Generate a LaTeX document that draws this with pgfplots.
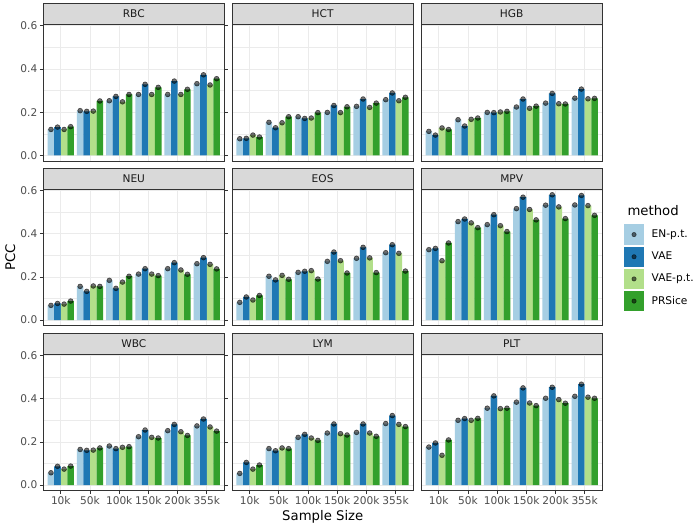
\documentclass[border=0pt]{standalone}
\usepackage{pgfplots}
\pgfplotsset{compat=1.18}
\usepackage{pgfplotstable}
\usepackage{fontspec}
\setmainfont{DejaVu Sans}
\definecolor{grey10}{HTML}{1A1A1A}
\definecolor{grey20}{HTML}{333333}
\definecolor{grey30}{HTML}{4D4D4D}
\definecolor{grey85}{HTML}{D9D9D9}
\definecolor{grey92}{HTML}{EBEBEB}
\definecolor{cEN}{HTML}{A6CEE3}
\definecolor{cVAE}{HTML}{1F78B4}
\definecolor{cVAEpt}{HTML}{B2DF8A}
\definecolor{cPRS}{HTML}{33A02C}

\pgfplotstableread{
x en vae vaept prs
1 0.120 0.131 0.120 0.133
2 0.207 0.204 0.205 0.252
3 0.253 0.273 0.248 0.282
4 0.282 0.329 0.282 0.315
5 0.282 0.344 0.282 0.306
6 0.332 0.373 0.326 0.355
}\tRBC
\pgfplotstableread{
x en vae vaept prs
1 0.077 0.079 0.094 0.085
2 0.153 0.128 0.151 0.179
3 0.179 0.171 0.173 0.198
4 0.199 0.231 0.198 0.225
5 0.227 0.261 0.222 0.242
6 0.258 0.289 0.253 0.269
}\tHCT
\pgfplotstableread{
x en vae vaept prs
1 0.111 0.094 0.127 0.120
2 0.165 0.136 0.167 0.173
3 0.199 0.198 0.201 0.204
4 0.224 0.261 0.218 0.228
5 0.242 0.287 0.239 0.238
6 0.265 0.307 0.262 0.264
}\tHGB
\pgfplotstableread{
x en vae vaept prs
1 0.068 0.077 0.074 0.088
2 0.156 0.133 0.158 0.156
3 0.184 0.147 0.176 0.203
4 0.213 0.238 0.213 0.206
5 0.238 0.266 0.232 0.212
6 0.261 0.289 0.258 0.237
}\tNEU
\pgfplotstableread{
x en vae vaept prs
1 0.082 0.107 0.093 0.114
2 0.203 0.186 0.207 0.189
3 0.221 0.226 0.229 0.190
4 0.272 0.315 0.275 0.218
5 0.286 0.337 0.288 0.220
6 0.312 0.349 0.309 0.227
}\tEOS
\pgfplotstableread{
x en vae vaept prs
1 0.326 0.332 0.275 0.357
2 0.456 0.468 0.450 0.428
3 0.442 0.488 0.437 0.410
4 0.516 0.569 0.512 0.464
5 0.532 0.580 0.524 0.470
6 0.533 0.577 0.530 0.485
}\tMPV
\pgfplotstableread{
x en vae vaept prs
1 0.057 0.087 0.074 0.088
2 0.165 0.161 0.162 0.172
3 0.181 0.169 0.175 0.178
4 0.224 0.255 0.221 0.218
5 0.252 0.281 0.247 0.230
6 0.274 0.306 0.269 0.250
}\tWBC
\pgfplotstableread{
x en vae vaept prs
1 0.054 0.105 0.074 0.093
2 0.169 0.159 0.172 0.169
3 0.221 0.235 0.218 0.207
4 0.241 0.283 0.238 0.232
5 0.244 0.283 0.241 0.226
6 0.285 0.322 0.281 0.271
}\tLYM
\pgfplotstableread{
x en vae vaept prs
1 0.176 0.195 0.138 0.209
2 0.300 0.308 0.300 0.309
3 0.356 0.413 0.354 0.356
4 0.384 0.450 0.380 0.368
5 0.402 0.453 0.396 0.379
6 0.411 0.467 0.407 0.402
}\tPLT

\newcommand\ticksz{\fontsize{8.8}{10}\selectfont}
\pgfplotsset{
  every axis title shift=0pt,
  every axis title/.style={at={(0.5,1)}, anchor=south, fill=grey85, draw=grey20,
      line width=0.6pt, minimum width=150.23pt, minimum height=17.18pt,
      inner sep=0pt, font=\ticksz, text=grey10},
  facet/.style={
    scale only axis, width=150.23pt, height=113.13pt, anchor=south west,
    xmin=0.4, xmax=6.6, ymin=-0.026, ymax=0.605,
    xtick={1,2,3,4,5,6}, ytick={0,0.2,0.4,0.6}, minor ytick={0.1,0.3,0.5},
    xmajorgrids=true, ymajorgrids=true, yminorgrids=true,
    major grid style={grey92, line width=0.6pt},
    minor grid style={grey92, line width=0.3pt},
    axis line style={grey20, line width=0.6pt},
    tick align=outside, major tick length=2.75pt, minor tick length=0pt,
    tick style={grey20, line width=0.6pt},
    xticklabel={}, yticklabel={},
    xmajorticks=false, ymajorticks=false,
    /pgf/number format/assume math mode=true,
    /pgf/number format/fixed, /pgf/number format/fixed zerofill,
    /pgf/number format/precision=1,
    tick label style={font=\ticksz, text=grey30},
    xticklabel style={inner sep=2pt},
    yticklabel style={inner sep=2pt},
    legend image code/.code={%
      \fill[#1] (0pt,-8.5pt) rectangle (16.1pt,8.5pt);
      \filldraw[black, fill opacity=0.55, draw opacity=0.55, line width=0.5pt]
        (8.05pt,0pt) circle (1.8pt);},
  },
  leftcol/.style={ymajorticks=true, yticklabel={\pgfmathprintnumber{\tick}}},
  bottomrow/.style={xmajorticks=true, xticklabels={10k,50k,100k,150k,200k,355k}},
  bar/.style={ybar, bar width=0.225, bar shift=0pt, draw=none},
  dot/.style={only marks, mark=*, mark size=2pt, forget plot,
    mark options={fill=black, draw=black, fill opacity=0.55, draw opacity=0.6, line width=0.5pt}},
}

\newcommand\facet[5]{%
\begin{axis}[facet, at={(#1,#2)}, title={#4}, #5]
\addplot[bar, fill=cEN] table[x expr=\thisrow{x}-0.3375, y=en]{#3};
\addplot[bar, fill=cVAE] table[x expr=\thisrow{x}-0.1125, y=vae]{#3};
\addplot[bar, fill=cVAEpt] table[x expr=\thisrow{x}+0.1125, y=vaept]{#3};
\addplot[bar, fill=cPRS] table[x expr=\thisrow{x}+0.3375, y=prs]{#3};
\addplot[dot] table[x expr=\thisrow{x}-0.3375, y=en]{#3};
\addplot[dot] table[x expr=\thisrow{x}-0.1125, y=vae]{#3};
\addplot[dot] table[x expr=\thisrow{x}+0.1125, y=vaept]{#3};
\addplot[dot] table[x expr=\thisrow{x}+0.3375, y=prs]{#3};
\end{axis}}

\begin{document}
\begin{tikzpicture}
\path[use as bounding box, fill=white] (0,0) rectangle (576.85pt,437.41pt);
\facet{35.94pt}{303.78pt}{\tRBC}{RBC}{leftcol}
\facet{192.64pt}{303.78pt}{\tHCT}{HCT}{}
\facet{349.60pt}{303.78pt}{\tHGB}{HGB}{}
\facet{35.94pt}{167.08pt}{\tNEU}{NEU}{leftcol}
\facet{192.64pt}{167.08pt}{\tEOS}{EOS}{}
\facet{349.60pt}{167.08pt}{\tMPV}{MPV}{legend entries={EN-p.t.,VAE,VAE-p.t.,PRSice},
  legend cell align=left,
  legend style={at={(1.1223,0.7436)}, anchor=north west, draw=none, fill=none,
    inner sep=0pt, outer sep=0pt, row sep=1.4pt, column sep=6.6pt,
    font=\ticksz, nodes={inner sep=0pt}}}
\facet{35.94pt}{30.13pt}{\tWBC}{WBC}{leftcol, bottomrow}
\facet{192.64pt}{30.13pt}{\tLYM}{LYM}{bottomrow}
\facet{349.60pt}{30.13pt}{\tPLT}{PLT}{bottomrow}
\node[rotate=90, anchor=base, font=\fontsize{11}{13}\selectfont] at (12.45pt,223.7pt) {PCC};
\node[anchor=base, font=\fontsize{11}{13}\selectfont] at (267.9pt,5pt) {Sample Size};
\node[anchor=base west, font=\fontsize{11}{13}\selectfont] at (517.3pt,258.4pt) {method};
\end{tikzpicture}
\end{document}
